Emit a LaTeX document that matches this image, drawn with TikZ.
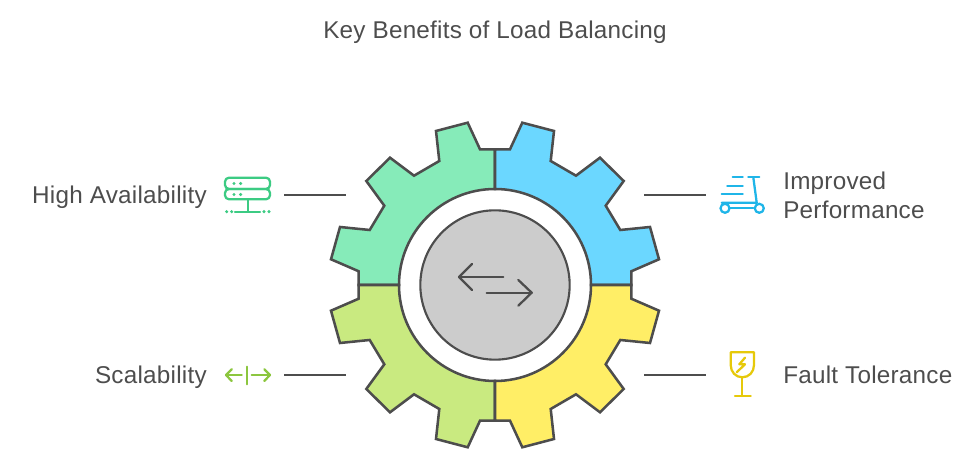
\documentclass[tikz,border=0pt]{standalone}
\usepackage{fontspec}
\setmainfont[LetterSpace=1]{Liberation Sans}
\definecolor{inkgray}{HTML}{4D4D4D}
\definecolor{mintgear}{HTML}{86EBB9}
\definecolor{skygear}{HTML}{6BD7FF}
\definecolor{limegear}{HTML}{C9EA80}
\definecolor{sungear}{HTML}{FFEE66}
\definecolor{hubgray}{HTML}{CCCCCC}
\definecolor{mintline}{HTML}{3CCB83}
\definecolor{skyline}{HTML}{1FB5E8}
\definecolor{limeline}{HTML}{8CC63F}
\definecolor{sunline}{HTML}{E6C90A}
\tikzset{
	label/.style={text=inkgray,font=\fontsize{18.2}{21.75}\selectfont,align=left,inner sep=0pt},
	gearpart/.style={draw=inkgray,line width=1.9pt,line join=miter},
	leader/.style={draw=inkgray,line width=1.7pt},
	icon/.style={line width=1.7pt,line cap=round,line join=round},
}
\begin{document}
\begin{tikzpicture}[x=0.75pt,y=0.75pt]
	\useasboundingbox (0,0) rectangle (975,466);

	% Title
	\node[label,anchor=base] (title) at (495,427) {Key Benefits of Load Balancing};

	% Gear, one quarter mirrored four times
	\foreach \sx/\sy/\col in {-1/1/mintgear,1/1/skygear,-1/-1/limegear,1/-1/sungear} {
		\begin{scope}[shift={(495,181)},xscale=\sx,yscale=\sy]
			\draw[gearpart,fill=\col] (0,135.7) -- (15,135.7) -- (27.3,162.3) -- (59,154) -- (55.7,124) -- (81,109.3) -- (105,127.3) -- (128.7,104) -- (110.7,79.3) -- (125.3,55) -- (155,58) -- (164,25.7) -- (136.3,13.7) -- (136.3,0) -- (96,0) arc (0:90:96) -- cycle;
		\end{scope}
	}

	% Hub with its two arrows
	\node[circle,draw=inkgray,line width=1.6pt,fill=hubgray,minimum size=112pt,inner sep=0pt] (hub) at (495,181) {};
	\draw[icon,draw=inkgray] (503.3,189) -- (459,189);
	\draw[icon,draw=inkgray] (472,202) -- (459,189) -- (472,176);
	\draw[icon,draw=inkgray] (486.7,173.3) -- (531.7,173.3);
	\draw[icon,draw=inkgray] (518.3,186) -- (531.7,173.3) -- (518.3,160.3);

	% Labels
	\node[label,anchor=base east] (avail) at (207,262) {High Availability};
	\node[label,anchor=base west] (perf) at (783,247) {Improved\\Performance};
	\node[label,anchor=base east] (scale) at (207,82) {Scalability};
	\node[label,anchor=base west] (fault) at (783,82) {Fault Tolerance};

	% Leader lines
	\coordinate (availa) at (284,271);
	\coordinate (availb) at (346,271);
	\coordinate (perfa) at (644,271);
	\coordinate (perfb) at (706,271);
	\coordinate (scalea) at (284,91);
	\coordinate (scaleb) at (346,91);
	\coordinate (faulta) at (644,91);
	\coordinate (faultb) at (706,91);
	\draw[leader] (availa) -- (availb);
	\draw[leader] (perfa) -- (perfb);
	\draw[leader] (scalea) -- (scaleb);
	\draw[leader] (faulta) -- (faultb);

	% Server icon
	\draw[icon,draw=mintline,rounded corners=3pt] (225,277) rectangle (270,288.3);
	\draw[icon,draw=mintline,rounded corners=3pt] (225,266.7) rectangle (270,277);
	\foreach \x in {234,240.7} {
		\fill[mintline] (\x,282.5) circle (1.3pt);
		\fill[mintline] (\x,271.5) circle (1.3pt);
	}
	\draw[icon,draw=mintline] (248.3,266.7) -- (248.3,254.3);
	\draw[icon,draw=mintline] (235,254.3) -- (260,254.3);
	\foreach \x in {226.7,231.7,264,269} {
		\fill[mintline] (\x,254.3) circle (1.3pt);
	}

	% Scooter icon
	\draw[icon,draw=skyline] (732.7,288.7) -- (742.7,288.7);
	\draw[icon,draw=skyline] (727.3,280.3) -- (742.7,280.3);
	\draw[icon,draw=skyline] (721.7,272) -- (742.7,272);
	\draw[icon,draw=skyline] (748.3,288.7) -- (759.3,288.7);
	\draw[icon,draw=skyline] (753.3,288.7) -- (756.7,263.3) -- (721.7,263.3);
	\draw[icon,draw=skyline] (730,258.3) -- (753.3,258.3);
	\draw[icon,draw=skyline] (725,257.7) circle (4.5);
	\draw[icon,draw=skyline] (759.3,257.7) circle (4.5);

	% Split arrows icon
	\draw[icon,draw=limeline] (241.7,91) -- (226,91);
	\draw[icon,draw=limeline] (231.7,96.7) -- (226,91) -- (231.7,85);
	\draw[icon,draw=limeline] (246.7,99.3) -- (246.7,81.7);
	\draw[icon,draw=limeline] (251.7,91) -- (270,91);
	\draw[icon,draw=limeline] (264.3,96.7) -- (270,91) -- (264.3,85);

	% Fragile glass icon
	\draw[icon,draw=sunline] (730.7,113.7) -- (754,113.7) -- (754,101) .. controls (754,94) and (749,88.7) .. (742.3,88.7) .. controls (735.7,88.7) and (730.7,94) .. (730.7,101) -- cycle;
	\draw[icon,draw=sunline] (742.3,88.7) -- (742.3,70);
	\draw[icon,draw=sunline] (735,70) -- (750.7,70);
	\draw[icon,draw=sunline] (745,108.3) -- (739.3,101.7) -- (745,101.7) -- (736.7,93.7);
\end{tikzpicture}
\end{document}
